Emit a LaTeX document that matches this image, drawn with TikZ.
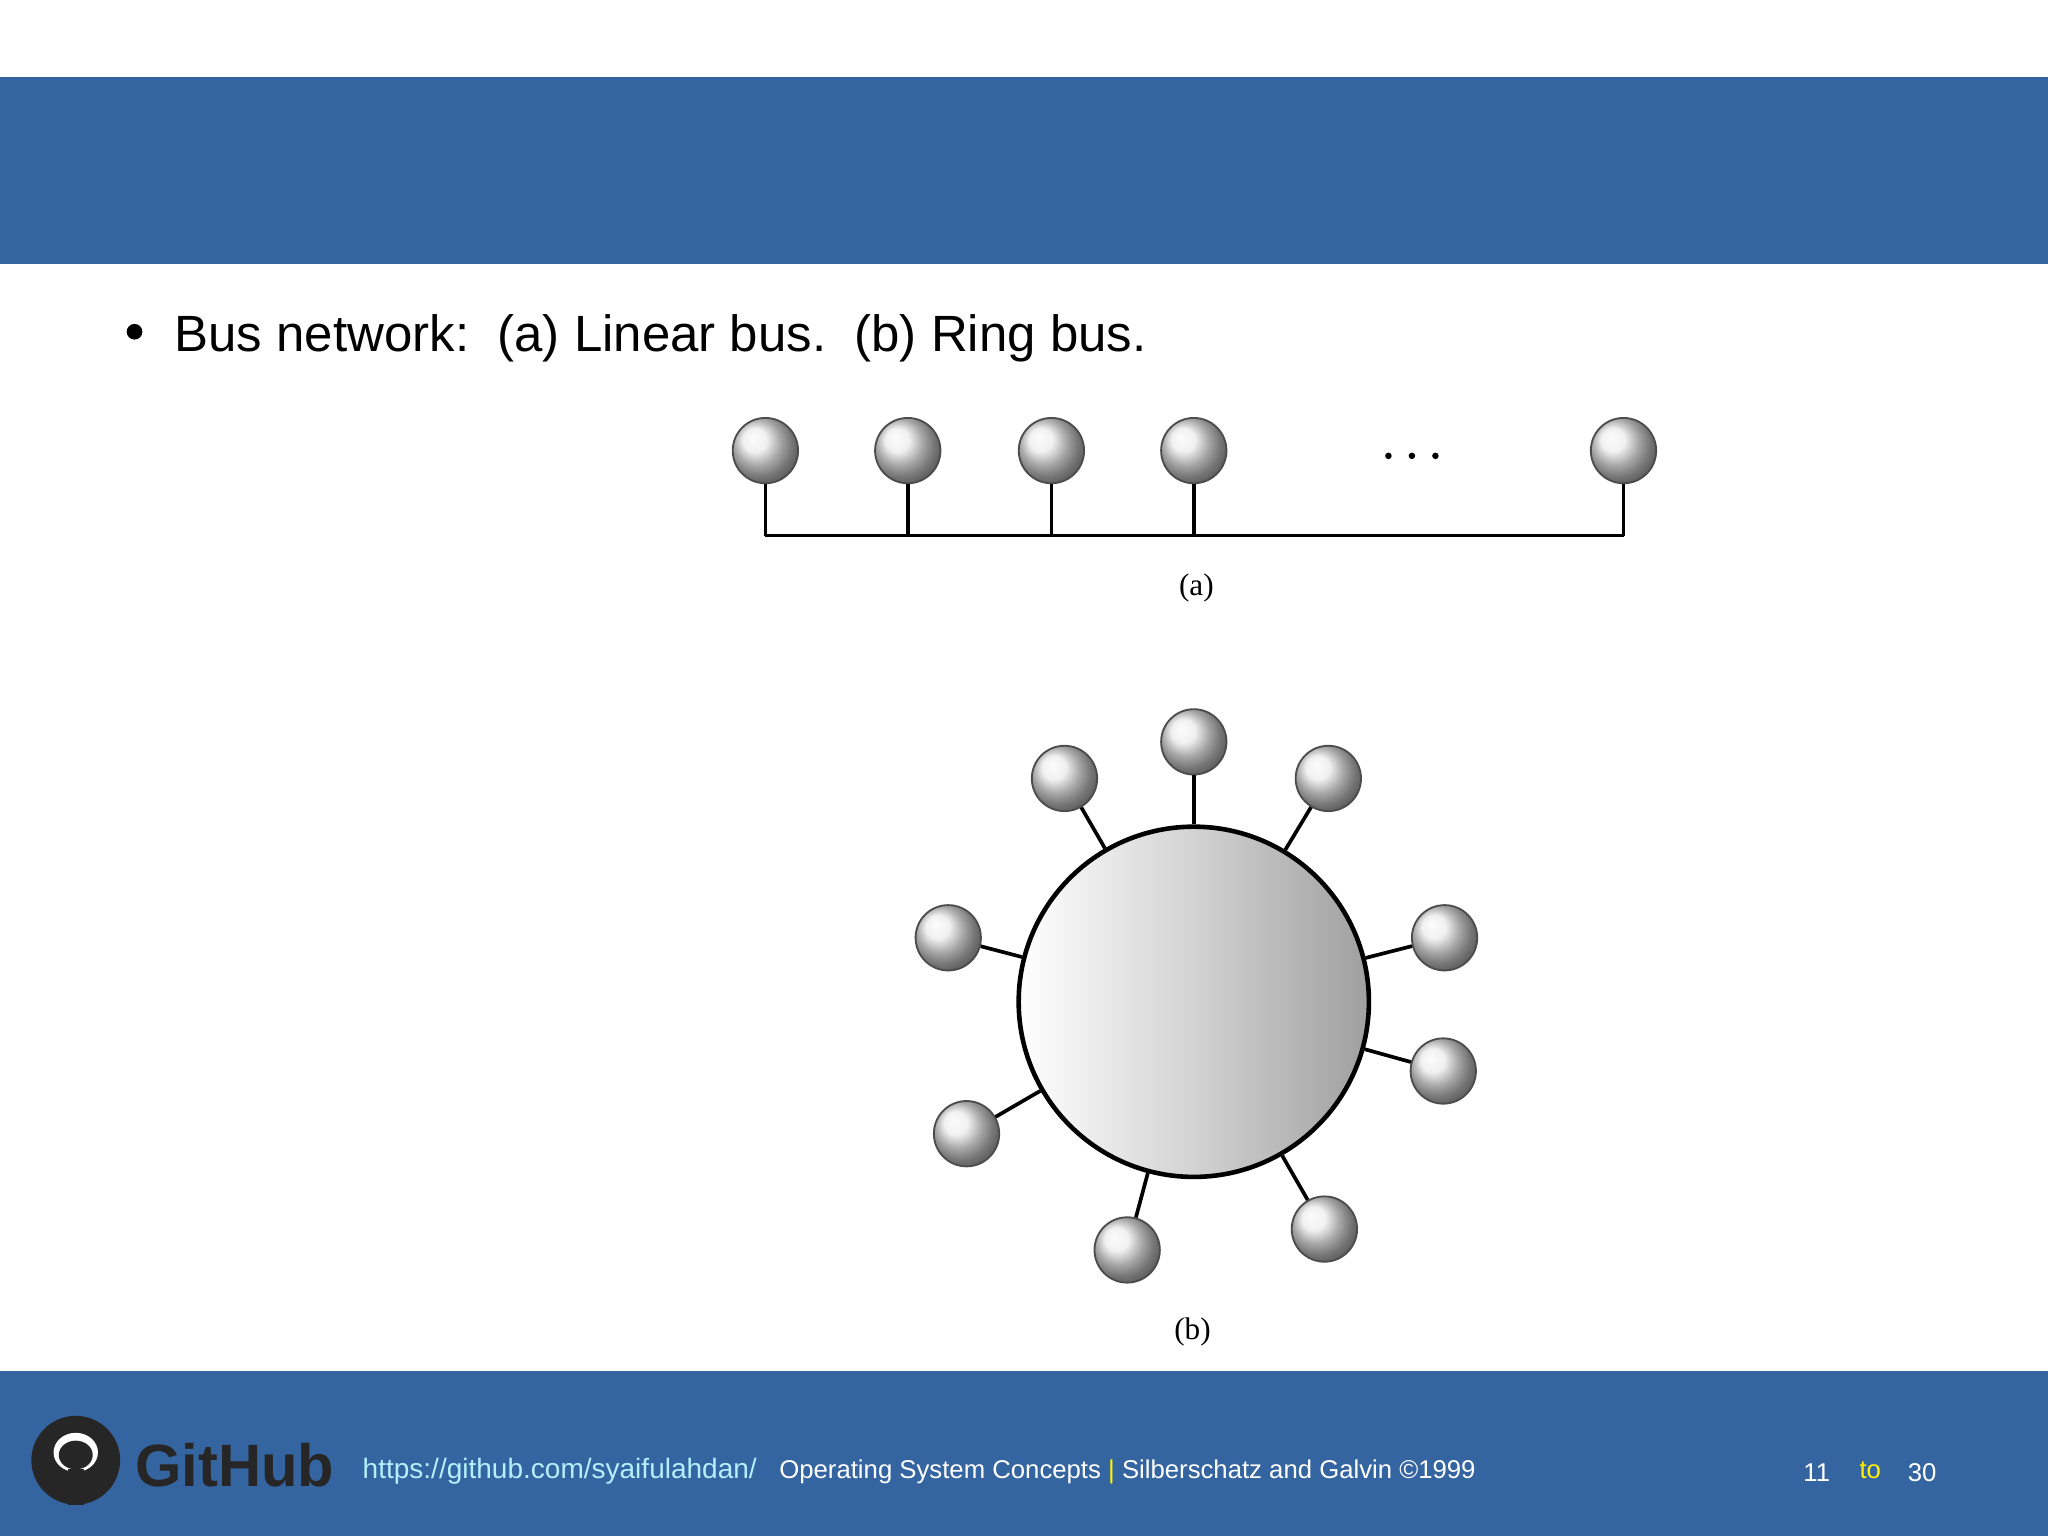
\documentclass[tikz,border=0pt]{standalone}
\usepackage{fontspec}
\setmainfont{Liberation Sans}
\newfontfamily\serifx{Liberation Serif}
\begin{document}
\begin{tikzpicture}[x=0.01cm,y=-0.01cm,
  ball/.style={circle,draw=gray!60!black,thin,ball color=gray!15,minimum size=0.5cm,inner sep=0},
  wire/.style={line width=0.8pt},
  foot/.style={font=\fontsize{5.6pt}{6pt}\selectfont,anchor=base west,inner sep=0}]
\useasboundingbox (0,0) rectangle (1568,1176);
\fill[white] (0,0) rectangle (1568,1176);
\definecolor{band}{HTML}{3465A0}
\fill[band] (0,59) rectangle (1568,202);
\fill[band] (0,1050) rectangle (1568,1176);
\fill (103,254) circle (6);
\node[anchor=base west,inner sep=0,font=\fontsize{11.1pt}{12pt}\selectfont] (title) at (133,269) {Bus network:\ \ (a) Linear bus.\ \ (b) Ring bus.};
% linear bus
\foreach \n/\x in {a1/586,a2/695,a3/805,a4/914,a5/1243}{
  \node[ball] (\n) at (\x,345) {};
  \coordinate (\n b) at (\x,410);
  \draw[wire] (\n) -- (\n b);
}
\draw[wire] (a1b) -- (a5b);
\foreach \x in {1063,1081,1099} \fill (\x,349) circle (2.5);
\node[font=\serifx\fontsize{6.8pt}{7pt}\selectfont] (la) at (916,450) {(a)};
% ring
\node[circle,draw,line width=1pt,minimum size=2.68cm,inner sep=0,left color=white,right color=gray!75,middle color=gray!35] (ring) at (914,767) {};
\foreach \n/\x/\y in {b1/914/568,b2/815/596,b3/1017/596,b4/726/718,b5/1106/718,b6/1105/820,b7/740/868,b8/863/957,b9/1014/941}{
  \node[ball] (\n) at (\x,\y) {};
  \draw[wire] (ring) -- (\n);
}
\node[font=\serifx\fontsize{6.8pt}{7pt}\selectfont] (lb) at (913,1020) {(b)};
% footer
\fill[black!85] (58,1118) circle (34);
\fill[white] (58,1112) ellipse (17 and 15);
\fill[black!85] (58,1114) ellipse (13 and 11);
\fill[black!85] (52,1125) rectangle (64,1152);
\node[anchor=base west,inner sep=0,font=\bfseries\fontsize{13pt}{14pt}\selectfont,text=black!85] (gh) at (103,1138) {GitHub};
\node[foot,text=blue!20!cyan!30!white,font=\fontsize{6.1pt}{6pt}\selectfont] (url) at (277,1132) {https://github.com/syaifulahdan/};
\node[foot,text=white] (osc) at (596,1132) {Operating System Concepts \textcolor{yellow}{|} Silberschatz and Galvin ©1999};
\node[foot,text=white] (p1) at (1380,1134) {11};
\node[foot,text=yellow] (p2) at (1423,1132) {to};
\node[foot,text=white] (p3) at (1460,1134) {30};
\end{tikzpicture}
\end{document}
